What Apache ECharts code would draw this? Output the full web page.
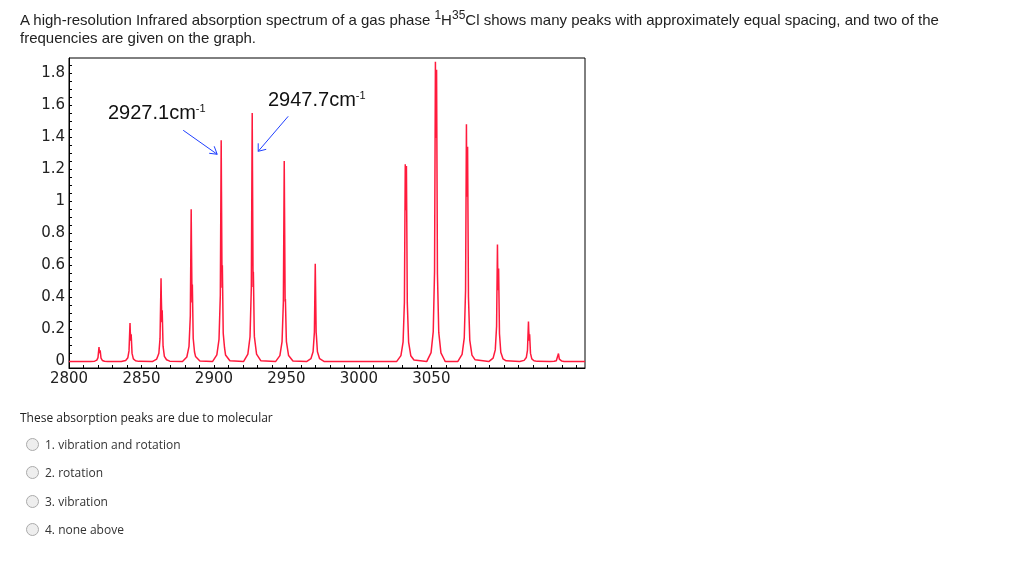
<!DOCTYPE html>
<html><head><meta charset="utf-8">
<script src="https://cdn.jsdelivr.net/npm/echarts@6/dist/echarts.min.js"></script>
<style>
body{margin:0;background:#fff;font-family:Arial,"Liberation Sans",sans-serif;}
#c{position:absolute;left:0;top:0;width:1024px;height:561px;}
.t{position:absolute;color:#222;}
.opt{position:absolute;left:26px;font-size:12px;color:#333;font-family:"Open Sans",sans-serif;}
.opt span{display:inline-block;width:11px;height:11px;border:1px solid #aaa;border-radius:50%;background:#eee;vertical-align:-2px;margin-right:6px;}
</style></head><body>
<div id="c"></div>
<div class="t" style="left:20px;top:6px;font-size:15px;line-height:18px;">A high-resolution Infrared absorption spectrum of a gas phase <sup style="font-size:12px">1</sup>H<sup style="font-size:12px">35</sup>Cl shows many peaks with approximately equal spacing, and two of the<br>frequencies are given on the graph.</div>
<div class="t" style="left:20px;top:409px;font-size:12px;font-family:'Open Sans',sans-serif;">These absorption peaks are due to molecular</div>
<div class="opt" style="top:436px"><span></span>1. vibration and rotation</div>
<div class="opt" style="top:464px"><span></span>2. rotation</div>
<div class="opt" style="top:493px"><span></span>3. vibration</div>
<div class="opt" style="top:521px"><span></span>4. none above</div>
<script>
// main (H35Cl) line positions and heights
const peakX = [2820.7,2842.1,2863.5,2884.3,2905.0,2926.4,2948.5,2969.9,3032.0,3052.8,3074.2,3095.6,3117.0,3137.7];
const peakH = [0.09,0.24,0.52,0.95,1.38,1.55,1.25,0.61,1.23,1.87,1.48,0.73,0.25,0.05];
// isotope (H37Cl) partner heights
const isoH = [0.07,0.17,0.32,0.48,0.60,0.56,0.39,0.16,1.22,1.82,1.34,0.58,0.17,0.02];
const xLabels = [2800,2850,2900,2950,3000,3050];
const yLabels = [0,0.2,0.4,0.6,0.8,1,1.2,1.4,1.6,1.8];

// line-shape template (offsets in cm-1, relative heights)
const shapeOff = [-6,-3,-1.5,-0.6,0,0.6,1.5,3,6];
const shapeF = [0,0.03,0.1,0.3,1,0.3,0.1,0.03,0];
const lines = [];
peakX.forEach((x,i)=>{
  lines.push({x:x,h:peakH[i]});
  lines.push({x:x+0.8,h:isoH[i]});
});
// sample envelope (max of line shapes) at template points
const xs = [];
lines.forEach(l=>shapeOff.forEach(o=>xs.push(+(l.x+o).toFixed(2))));
xs.sort((a,b)=>a-b);
function shapeAt(l,x){
  const d=x-l.x;
  if(d<=shapeOff[0]||d>=shapeOff[shapeOff.length-1])return 0;
  for(let k=0;k<shapeOff.length-1;k++){
    if(d>=shapeOff[k]&&d<=shapeOff[k+1]){
      const t=(d-shapeOff[k])/(shapeOff[k+1]-shapeOff[k]);
      return l.h*(shapeF[k]+(shapeF[k+1]-shapeF[k])*t);
    }
  }
  return 0;
}
const pts=[[2800,0]];
xs.forEach(x=>{let m=0;lines.forEach(l=>{m=Math.max(m,shapeAt(l,x));});pts.push([x,m]);});
pts.push([3156,0]);

const xt=[];for(let v=2800;v<=3150;v+=10)xt.push(v);
const yt=[];for(let v=0;v<=1.9;v+=0.05)yt.push(+v.toFixed(2));

const ch = echarts.init(document.getElementById('c'));
ch.setOption({
  animation:false,
  grid:{left:69,right:439,top:58,height:310,show:true,borderColor:'#000',borderWidth:1},
  xAxis:{type:'value',min:2800,max:3156,
    axisLine:{onZero:false,lineStyle:{color:'#000'}},
    axisTick:{inside:true,length:3,customValues:xt,lineStyle:{color:'#000'}},
    axisLabel:{customValues:xLabels,color:'#222',fontSize:15,margin:4,fontFamily:'DejaVu Sans',formatter:v=>String(v)},
    splitLine:{show:false}},
  yAxis:{type:'value',min:-0.04,max:1.893,
    axisLine:{show:true,lineStyle:{color:'#000'}},
    axisTick:{show:true,inside:true,length:3,customValues:yt,lineStyle:{color:'#000'}},
    axisLabel:{customValues:yLabels,color:'#222',fontSize:15,margin:4,fontFamily:'DejaVu Sans',formatter:v=>String(+v.toFixed(1))},
    splitLine:{show:false}},
  series:[{type:'line',data:pts,showSymbol:false,lineStyle:{color:'#ff1a3c',width:1.5}}]
});
const g = ch.convertToPixel({gridIndex:0},[2905.0,1.38]);
const g2 = ch.convertToPixel({gridIndex:0},[2926.4,1.28]);
const rt={sup:{fontSize:11,verticalAlign:'top',padding:[0,0,10,0],fill:'#111'}};
ch.setOption({graphic:[
  {type:'text',left:108,top:103,style:{text:'2927.1cm{sup|-1}',fontSize:20,fill:'#111',fontFamily:'Liberation Sans',rich:rt}},
  {type:'text',left:268,top:90,style:{text:'2947.7cm{sup|-1}',fontSize:20,fill:'#111',fontFamily:'Liberation Sans',rich:rt}},
  {type:'line',shape:{x1:g[0]-38,y1:g[1]-10,x2:g[0]-4,y2:g[1]+14},style:{stroke:'#1f3fff',lineWidth:1}},
  {type:'polyline',shape:{points:[[g[0]-12,g[1]+13],[g[0]-4,g[1]+14],[g[0]-7,g[1]+6]]},style:{stroke:'#1f3fff',fill:null,lineWidth:1}},
  {type:'line',shape:{x1:g2[0]+36,y1:g2[1]-40,x2:g2[0]+6,y2:g2[1]-5},style:{stroke:'#1f3fff',lineWidth:1}},
  {type:'polyline',shape:{points:[[g2[0]+6,g2[1]-13],[g2[0]+6,g2[1]-5],[g2[0]+14,g2[1]-7]]},style:{stroke:'#1f3fff',fill:null,lineWidth:1}}
]});
</script></body></html>
